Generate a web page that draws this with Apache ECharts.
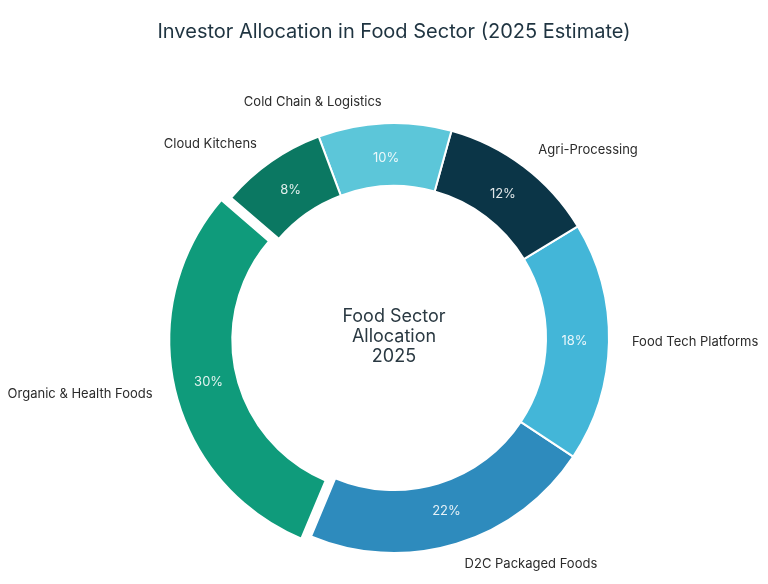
<!DOCTYPE html>
<html>
<head>
<meta charset="utf-8">
<script src="https://cdn.jsdelivr.net/npm/echarts@6/dist/echarts.min.js"></script>
<style>
  html, body { margin: 0; padding: 0; background: #fff; }
  #chart { width: 768px; height: 584px; }
</style>
</head>
<body>
<div id="chart"></div>
<script>
// sectors, in drawing order (counter-clockwise from the Organic slice)
var sectors = ['Organic & Health Foods', 'D2C Packaged Foods', 'Food Tech Platforms', 'Agri-Processing', 'Cold Chain & Logistics', 'Cloud Kitchens'];
var shares = [30, 22, 18, 12, 10, 8];
var colors = ['#0f9b7b', '#2e8bbd', '#43b6d8', '#0b3547', '#5cc6d9', '#0b7862'];
var pulled = ['Organic & Health Foods'];

var font = 'Inter, "Noto Sans", sans-serif';

var chart = echarts.init(document.getElementById('chart'));

function buildData(withColor) {
    var out = [];
    for (var i = 0; i < sectors.length; i++) {
        out.push({
            name: sectors[i],
            value: shares[i],
            selected: pulled.indexOf(sectors[i]) >= 0,
            itemStyle: withColor ? { color: colors[i] } : { color: 'rgba(0,0,0,0)', borderWidth: 0 }
        });
    }
    return out;
}

var common = {
    type: 'pie',
    center: [394, 338],
    startAngle: 139.3,
    clockwise: false,
    selectedMode: 'multiple',
    selectedOffset: 10,
    avoidLabelOverlap: false,
    animation: false
};

var option = {
    title: [
        {
            text: 'Investor Allocation in Food Sector (2025 Estimate)',
            left: 394,
            top: 22,
            padding: 0,
            textAlign: 'center',
            textStyle: { fontFamily: font, fontSize: 20, fontWeight: 'normal', color: '#1f3441' }
        },
        {
            text: 'Food Sector\nAllocation\n2025',
            left: 394,
            top: 307,
            padding: 0,
            textAlign: 'center',
            textStyle: { fontFamily: font, fontSize: 18, fontWeight: 'normal', color: '#2a3942', lineHeight: 20 }
        }
    ],
    series: [
        // coloured ring with the sector names outside
        Object.assign({}, common, {
            name: 'share',
            radius: [152, 215],
            data: buildData(true),
            itemStyle: { borderColor: '#ffffff', borderWidth: 2 },
            label: {
                show: true,
                position: 'outside',
                formatter: '{b}',
                fontFamily: font,
                fontSize: 13,
                color: '#2b2b2b',
                distanceToLabelLine: 2
            },
            labelLine: { show: false, length: 21, length2: 0 }
        }),
        // invisible ring that only carries the percentage labels
        Object.assign({}, common, {
            name: 'pct',
            silent: true,
            z: 3,
            radius: [140, 215],
            data: buildData(false),
            label: {
                show: true,
                position: 'inside',
                formatter: '{c}%',
                fontFamily: font,
                fontSize: 13,
                color: 'rgba(255,255,255,0.88)'
            },
            labelLine: { show: false }
        })
    ]
};

chart.setOption(option);
</script>
</body>
</html>
